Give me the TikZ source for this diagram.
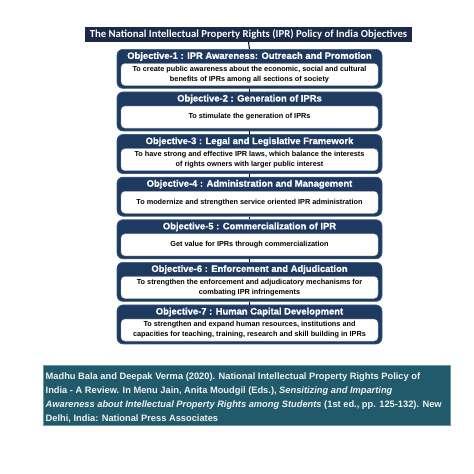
\documentclass[tikz,border=0pt]{standalone}
\usepackage{fontspec}
\setmainfont{Liberation Sans}
\newfontfamily\titlefont{Carlito}
\newfontfamily\heavyfont[FakeBold=0.8]{Liberation Sans Bold}
\definecolor{titlefill}{HTML}{1B2A48}
\definecolor{objfill}{HTML}{1F3A60}
\definecolor{objborder}{HTML}{3A5A85}
\definecolor{citefill}{HTML}{215A6A}
\definecolor{citeborder}{HTML}{6F99A6}
\begin{document}
\begin{tikzpicture}[x=1pt,y=-1pt,
  titlebox/.style={fill=titlefill, minimum width=327pt, minimum height=15pt, inner sep=0pt,
    text=white, font=\titlefont\bfseries\fontsize{10.7}{12}\selectfont},
  objbox/.style={draw=objborder, line width=0.7pt, fill=objfill, rounded corners=6pt,
    minimum width=265pt, minimum height=39pt, inner sep=0pt},
  headtext/.style={text=white, font=\heavyfont\fontsize{9.4}{11}\selectfont, inner sep=0pt},
  innerbox/.style={fill=white, draw=gray!60, line width=0.4pt, rounded corners=4pt,
    minimum width=257pt, minimum height=22pt, inner sep=0pt},
  desctext/.style={text=black, font=\bfseries\fontsize{7.3}{10}\selectfont, align=center, inner sep=0pt},
  conn/.style={draw=black, line width=1pt},
  citebox/.style={fill=citefill, draw=citeborder, line width=0.5pt, minimum width=407pt,
    minimum height=60pt, inner sep=0pt},
  citetext/.style={text=white!95!black, font=\bfseries\fontsize{9.3}{13.7}\selectfont, align=left, inner sep=0pt}
]
\useasboundingbox[fill=white] (0,0) rectangle (474,474);

\node[titlebox] (title) at (248.5,34.5) {The National Intellectual Property Rights (IPR) Policy of India Objectives};

\foreach \i/\h/\d in {
  1/{IPR Awareness: Outreach and Promotion}/{To create public awareness about the economic, social and cultural\\benefits of IPRs among all sections of society},
  2/{Generation of IPRs}/{To stimulate the generation of IPRs},
  3/{Legal and Legislative Framework}/{To have strong and effective IPR laws, which balance the interests\\of rights owners with larger public interest},
  4/{Administration and Management}/{To modernize and strengthen service oriented IPR administration},
  5/{Commercialization of IPR}/{Get value for IPRs through commercialization},
  6/{Enforcement and Adjudication}/{To strengthen the enforcement and adjudicatory mechanisms for\\combating IPR infringements},
  7/{Human Capital Development}/{To strengthen and expand human resources, institutions and\\capacities for teaching, training, research and skill building in IPRs}}
{
  \pgfmathsetmacro{\tp}{49+(\i-1)*42.6}
  \node[objbox, anchor=north] (o\i) at (249.5,\tp) {};
  \node[headtext] (h\i) at (249.5,\tp+7.5) {Objective-\i\ : \h};
  \node[innerbox] (b\i) at (249.5,\tp+25.5) {};
  \node[desctext] (d\i) at (249.5,\tp+25.5) {\d};
}

\draw[conn] (title.south) -- (o1.north);
\foreach \i [evaluate=\i as \j using int(\i+1)] in {1,...,6}{
  \draw[conn] (o\i.south) -- (o\j.north);
}

\node[citebox, anchor=north west] (cite) at (43,365) {};
\node[citetext, anchor=north west] (citetxt) at (45.5,373) {%
Madhu Bala and Deepak Verma (2020). National Intellectual Property Rights Policy of\\
India - A Review. In Menu Jain, Anita Moudgil (Eds.), \textit{Sensitizing and Imparting}\\
\textit{Awareness about Intellectual Property Rights among Students} (1st ed., pp. 125-132). New\\
Delhi, India: National Press Associates};
\end{tikzpicture}
\end{document}
